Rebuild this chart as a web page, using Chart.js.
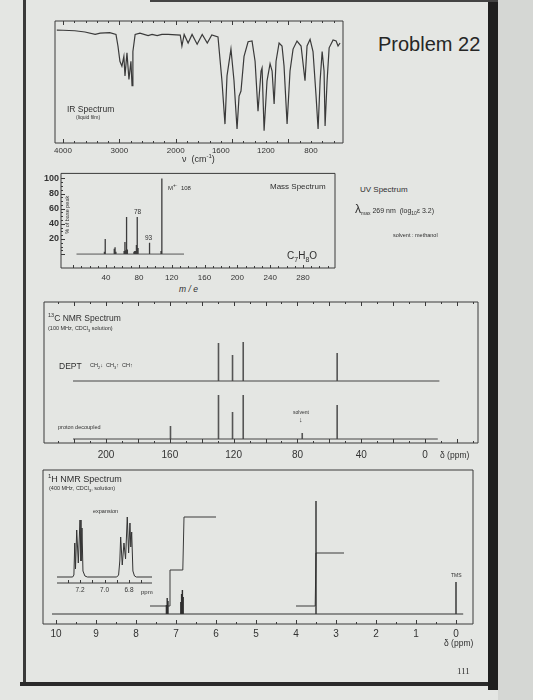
<!DOCTYPE html>
<html>
<head>
<meta charset="utf-8">
<script src="https://cdn.jsdelivr.net/npm/chart.js@4.4.1/dist/chart.umd.min.js"></script>
<style>
  body { margin: 0; width: 533px; height: 700px; background: #e4e6e3; position: relative; overflow: hidden;
         font-family: "Liberation Sans", Arial, sans-serif; color: #2f2f2f; }
  canvas { position: absolute; }
  .t { position: absolute; white-space: nowrap; line-height: 1; }
  .edge { position: absolute; background: #2c2c2c; }
  sub, sup { line-height: 0; }
</style>
</head>
<body>
<div class="edge" style="left:498px;top:0;width:35px;height:700px;background:#d5d7d4"></div>
<div class="edge" style="left:23px;top:0;width:3px;height:686px;background:#3a3a3a"></div>
<div class="edge" style="left:20px;top:682px;width:478px;height:4px;background:#2a2a2a"></div>
<div class="edge" style="left:488px;top:0;width:10px;height:690px;background:#1f1f1f"></div>
<div class="edge" style="left:150px;top:0;width:348px;height:2px;background:#444"></div>

<canvas id="ir"></canvas>
<canvas id="ms"></canvas>
<canvas id="c13"></canvas>
<canvas id="h1"></canvas>
<canvas id="inset"></canvas>

<div class="t" style="left:378px;top:34px;font-size:20px;color:#262626">Problem 22</div>

<div class="t" style="left:67px;top:105px;font-size:8.5px">IR Spectrum</div>
<div class="t" style="left:76px;top:115px;font-size:5px">(liquid film)</div>
<div class="t" style="left:182px;top:155px;font-size:9px">ν &nbsp;(cm<sup style="font-size:6px">-1</sup>)</div>

<div class="t" style="left:360px;top:186px;font-size:8px;color:#2f2f2f">UV Spectrum</div>
<div class="t" style="left:355px;top:203px;font-size:7px"><span style="font-size:12px">λ</span><sub style="font-size:5px">max</sub> 269 nm &nbsp;(log<sub style="font-size:5px">10</sub>ε 3.2)</div>
<div class="t" style="left:393px;top:233px;font-size:5.5px">solvent : methanol</div>

<div class="t" style="left:270px;top:183px;font-size:8px">Mass Spectrum</div>
<div class="t" style="left:168px;top:185px;font-size:6px">M<sup style="font-size:5px">+·</sup> &nbsp;108</div>
<div class="t" style="left:134px;top:209px;font-size:6.5px">78</div>
<div class="t" style="left:145px;top:235px;font-size:6.5px">93</div>
<div class="t" style="left:287px;top:251px;font-size:10px">C<sub style="font-size:7px">7</sub>H<sub style="font-size:7px">8</sub>O</div>
<div class="t" style="left:40px;top:212px;width:56px;text-align:center;font-size:5.5px;transform:rotate(-90deg)">% of base peak</div>
<div class="t" style="left:179px;top:285px;font-size:8.5px;font-style:italic">m / e</div>

<div class="t" style="left:48px;top:314px;font-size:8.5px"><sup style="font-size:5.5px">13</sup>C NMR Spectrum</div>
<div class="t" style="left:48px;top:326px;font-size:5.5px">(100 MHz, CDCl<sub style="font-size:4px">3</sub> solution)</div>
<div class="t" style="left:59px;top:362px;font-size:8.5px">DEPT</div>
<div class="t" style="left:90px;top:363px;font-size:5.5px">CH<sub style="font-size:4px">2</sub>↓ &nbsp;CH<sub style="font-size:4px">3</sub>↑ &nbsp;CH↑</div>
<div class="t" style="left:58px;top:425px;font-size:5.5px">proton decoupled</div>
<div class="t" style="left:293px;top:410px;font-size:5px">solvent</div>
<div class="t" style="left:299px;top:416px;font-size:7px">↓</div>
<div class="t" style="left:440px;top:451px;font-size:8.5px">δ (ppm)</div>

<div class="t" style="left:48px;top:475px;font-size:9px"><sup style="font-size:6px">1</sup>H NMR Spectrum</div>
<div class="t" style="left:49px;top:486px;font-size:5.5px">(400 MHz, CDCl<sub style="font-size:4px">3</sub>, solution)</div>
<div class="t" style="left:93px;top:509px;font-size:5.5px">expansion</div>
<div class="t" style="left:141px;top:589px;font-size:6px">ppm</div>
<div class="t" style="left:451px;top:573px;font-size:5px">TMS</div>
<div class="t" style="left:444px;top:639px;font-size:8.5px">δ (ppm)</div>
<div class="t" style="left:457px;top:667px;font-size:9px;font-family:'Liberation Serif',serif">111</div>

<script>
// IR spectrum (wavenumber cm-1, % transmittance)
const irWave = [4110, 4000, 3790, 3610, 3430, 3340, 3170, 3060, 3025, 2990,
  2955, 2920, 2900, 2865, 2830, 2795, 2775, 2760, 2720, 2635,
  2490, 2420, 2330, 2245, 2135, 1960, 1945, 1925, 1890, 1855,
  1810, 1765, 1720, 1680, 1625, 1590, 1563, 1545, 1510, 1483,
  1456, 1438, 1421, 1394, 1358, 1323, 1296, 1270, 1243, 1234,
  1216, 1190, 1163, 1145, 1127, 1110, 1083, 1057, 1039, 1012,
  986, 959, 924, 888, 853, 835, 808, 782, 755, 737,
  719, 701, 684, 675, 657, 639, 604, 577, 560, 542];
const irTrans = [92.6, 92.4, 92, 91, 89, 90, 90.5, 89, 79.5, 67,
  63, 71, 55, 74, 52, 67, 47, 75, 89, 90,
  88, 89, 88, 89, 89, 88.5, 79.5, 89, 82, 89,
  81, 89, 82, 88.5, 87, 51, 15.5, 55, 77, 51,
  11.5, 38.5, 42.6, 71, 83, 83.6, 67, 26, 59, 61.5,
  10, 51, 65, 59, 32, 67, 82, 79.5, 63, 15.5,
  59, 77, 83.6, 79.5, 51, 79.5, 85, 75, 38.5, 11.5,
  51, 75, 59, 14, 51, 78, 84.4, 83.6, 79.5, 82];
const irTickLabels = [4000, 3000, 2000, 1600, 1200, 800];

// mass spectrum (m/e, % of base peak)
const msMass = [38, 39, 50, 51, 52, 62, 63, 64, 65, 66, 74, 75, 76, 77, 78, 79, 93, 107, 108];
const msPct = [3, 20, 7, 9, 3, 4, 16, 5, 49, 6, 3, 4, 4, 12, 49, 8, 15, 4, 100];
const msTickLabels = [40, 80, 120, 160, 200, 240, 280];
const msPctLabels = [20, 40, 60, 80, 100];

// 13C NMR (ppm, peak height)
const deptShift = [129.5, 120.7, 114.0, 55.1];
const deptHeight = [38, 26, 39, 28];
const cShift = [159.6, 129.5, 120.7, 114.0, 77.0, 55.1];
const cHeight = [13, 44, 27, 44, 6, 34];
const cTickLabels = [200, 160, 120, 80, 40, 0];

// 1H NMR (ppm, peak height)
const hShift = [7.24, 7.22, 7.20, 6.88, 6.86, 6.84, 6.82, 3.5, 0];
const hHeight = [9, 16, 13, 12, 20, 24, 17, 113, 32];
const hTickLabels = [10, 9, 8, 7, 6, 5, 4, 3, 2, 1, 0];
// integration trace
const intAromPpm = [7.65, 7.17, 7.15, 6.83, 6.80, 6.0];
const intAromVal = [18, 18, 54, 54, 107, 107];
const intMePpm = [4.0, 3.52, 3.5, 2.8];
const intMeVal = [18, 18, 71, 71];
// expansion trace
const expPpm = [7.388, 7.26, 7.25, 7.243, 7.237, 7.227, 7.214, 7.2, 7.192, 7.184, 7.176, 7.16, 7.14,
  6.9, 6.885, 6.875, 6.868, 6.855, 6.841, 6.828, 6.814, 6.803, 6.792, 6.785, 6.778, 6.768, 6.755, 6.74, 6.612];
const expVal = [6, 6, 8, 40, 14, 53, 20, 63, 22, 55, 12, 7, 6,
  6, 8, 22, 46, 18, 40, 24, 66, 30, 60, 36, 51, 12, 7, 6, 6];
const expTickLabels = [7.2, 7.0, 6.8];

Chart.defaults.font.family = '"Liberation Sans", Arial, sans-serif';
Chart.defaults.color = '#333';
Chart.defaults.animation = false;
Chart.defaults.events = [];
Chart.defaults.plugins.legend.display = false;
Chart.defaults.plugins.tooltip.enabled = false;

// frame + inward tick marks
const boxTicks = {
  id: 'boxTicks',
  afterDatasetsDraw(chart, args, opts) {
    const { ctx, chartArea: a, scales } = chart;
    ctx.save();
    ctx.strokeStyle = opts.color || '#3a3a3a';
    ctx.lineWidth = opts.width || 1;
    ctx.beginPath();
    (opts.edges || []).forEach(e => {
      if (e === 'top') { ctx.moveTo(a.left, a.top); ctx.lineTo(a.right, a.top); }
      if (e === 'bottom') { ctx.moveTo(a.left, a.bottom); ctx.lineTo(a.right, a.bottom); }
      if (e === 'left') { ctx.moveTo(a.left, a.top); ctx.lineTo(a.left, a.bottom); }
      if (e === 'right') { ctx.moveTo(a.right, a.top); ctx.lineTo(a.right, a.bottom); }
    });
    (opts.marks || []).forEach(m => {
      const sc = scales[m.axis];
      const n = Math.round((m.to - m.from) / m.step);
      for (let i = 0; i <= n; i++) {
        const v = m.from + i * m.step;
        const big = m.major && Math.abs(v / m.major - Math.round(v / m.major)) < 1e-6;
        const len = big ? m.long : m.short;
        const p = Math.round(sc.getPixelForValue(v)) + 0.5;
        if (m.side === 'top') { ctx.moveTo(p, a.top); ctx.lineTo(p, a.top + len); }
        if (m.side === 'bottom') { ctx.moveTo(p, a.bottom); ctx.lineTo(p, a.bottom - len); }
        if (m.side === 'left') { ctx.moveTo(a.left, p); ctx.lineTo(a.left + len, p); }
      }
    });
    ctx.stroke();
    ctx.restore();
  }
};
Chart.register(boxTicks);

function line(data, color, width) {
  return { data, showLine: true, borderColor: color, borderWidth: width, pointRadius: 0, spanGaps: false, tension: 0 };
}
function trace(xs, ys) { return xs.map((x, i) => ({ x, y: ys[i] })); }
function sticks(xs, hs, base) {
  const pts = [];
  xs.forEach((x, i) => { pts.push({ x, y: base }, { x, y: base + hs[i] }, { x, y: null }); });
  return pts;
}
function xAxis(min, max, reverse, values, fmt, font, padding, height) {
  return {
    type: 'linear', min, max, reverse,
    grid: { display: false, drawTicks: false },
    border: { display: false },
    afterBuildTicks: s => { s.ticks = values.map(v => ({ value: v })); },
    afterFit: s => { s.height = height; },
    ticks: { autoSkip: false, maxRotation: 0, padding, font, color: '#333', callback: fmt }
  };
}

function makeSpectrum(id, box, pad, cfg) {
  const c = document.getElementById(id);
  c.width = box.w + pad.l + pad.r;
  c.height = box.h + pad.t + pad.b;
  c.style.left = (box.x - pad.l) + 'px';
  c.style.top = (box.y - pad.t) + 'px';
  return new Chart(c, {
    type: 'scatter',
    data: { datasets: cfg.datasets },
    options: {
      responsive: false,
      devicePixelRatio: 1,
      layout: { padding: { left: cfg.yShown ? 0 : pad.l, right: pad.r, top: pad.t, bottom: 0 } },
      scales: { x: cfg.x, y: cfg.y },
      plugins: { boxTicks: cfg.frame }
    }
  });
}

// IR: half scale above 2000 cm-1
function irPos(w) { return w >= 2000 ? (4000 - w) / 2 : 1000 + (2000 - w); }
function irName(p) { return p <= 1000 ? 4000 - 2 * p : 2000 - (p - 1000); }

makeSpectrum('ir', { x: 55, y: 21, w: 288, h: 122 }, { l: 14, r: 14, t: 4, b: 16 }, {
  datasets: [line(trace(irWave.map(irPos), irTrans), '#3a3a3a', 1.2)],
  x: xAxis(-71, 2484, false, irTickLabels.map(irPos), v => irName(v), { size: 8 }, 3, 16),
  y: { type: 'linear', display: false, min: 0, max: 100 },
  frame: {
    edges: ['top', 'bottom', 'left', 'right'],
    marks: [
      { axis: 'x', side: 'top', from: 0, to: 2400, step: 100, major: 500, long: 4, short: 2 },
      { axis: 'x', side: 'bottom', from: 0, to: 2400, step: 100, major: 500, long: 4, short: 2 }
    ]
  }
});

makeSpectrum('ms', { x: 61, y: 172, w: 274, h: 96 }, { l: 24, r: 10, t: 6, b: 14 }, {
  yShown: true,
  datasets: [
    line(sticks(msMass, msPct, 0), '#3c3c3c', 1.3),
    line([{ x: 4, y: 0 }, { x: 135, y: 0 }], '#555', 1)
  ],
  x: xAxis(-14.9, 319, false, msTickLabels, v => v, { size: 8 }, 5, 14),
  y: {
    type: 'linear', min: -18.4, max: 106.6,
    grid: { display: false, drawTicks: false },
    border: { display: false },
    afterBuildTicks: s => { s.ticks = msPctLabels.map(v => ({ value: v })); },
    afterFit: s => { s.width = 24; },
    ticks: { padding: 2, font: { size: 9, weight: 'bold' }, color: '#333' }
  },
  frame: {
    edges: ['top', 'bottom', 'left', 'right'],
    marks: [
      { axis: 'y', side: 'left', from: 0, to: 100, step: 5, major: 20, long: 4, short: 2 },
      { axis: 'x', side: 'bottom', from: 0, to: 310, step: 10, major: 40, long: 3, short: 2 }
    ]
  }
});

makeSpectrum('c13', { x: 44, y: 302, w: 434, h: 141 }, { l: 14, r: 14, t: 4, b: 18 }, {
  datasets: [
    line([{ x: 220.7, y: 62 }, { x: -9, y: 62 }], '#444', 1),
    line(sticks(deptShift, deptHeight, 62), '#555', 1.6),
    line([{ x: 220.7, y: 4 }, { x: -8, y: 4 }], '#444', 1),
    line(sticks(cShift, cHeight, 4), '#555', 1.6)
  ],
  x: xAxis(-33.2, 238.9, true, cTickLabels, v => v, { size: 10 }, 6, 18),
  y: { type: 'linear', display: false, min: 0, max: 141 },
  frame: {
    edges: ['top', 'bottom', 'left', 'right'],
    marks: [
      { axis: 'x', side: 'top', from: -30, to: 230, step: 10, major: 20, long: 4, short: 2 },
      { axis: 'x', side: 'bottom', from: -30, to: 230, step: 10, major: 20, long: 4, short: 2 }
    ]
  }
});

makeSpectrum('h1', { x: 43, y: 470, w: 430, h: 154 }, { l: 14, r: 14, t: 4, b: 18 }, {
  datasets: [
    line([{ x: 10.1, y: 10 }, { x: -0.18, y: 10 }], '#333', 1),
    line(sticks(hShift, hHeight, 10), '#2e2e2e', 1.4),
    line(trace(intAromPpm, intAromVal), '#3a3a3a', 1),
    line(trace(intMePpm, intMeVal), '#3a3a3a', 1)
  ],
  x: xAxis(-0.425, 10.325, true, hTickLabels, v => v, { size: 10 }, 4, 18),
  y: { type: 'linear', display: false, min: 0, max: 154 },
  frame: {
    edges: ['top', 'bottom', 'left', 'right'],
    marks: [
      { axis: 'x', side: 'bottom', from: 0, to: 10, step: 0.5, major: 1, long: 4, short: 2 }
    ]
  }
});

makeSpectrum('inset', { x: 57, y: 505, w: 95, h: 78 }, { l: 8, r: 8, t: 2, b: 12 }, {
  datasets: [line(trace(expPpm, expVal), '#333', 1)],
  x: xAxis(6.612, 7.388, true, expTickLabels, v => v.toFixed(1), { size: 6.5 }, 3, 12),
  y: { type: 'linear', display: false, min: 0, max: 78 },
  frame: {
    edges: ['bottom'],
    marks: [
      { axis: 'x', side: 'bottom', from: 6.7, to: 7.3, step: 0.1, long: 3, short: 3 }
    ]
  }
});
</script>
</body>
</html>
